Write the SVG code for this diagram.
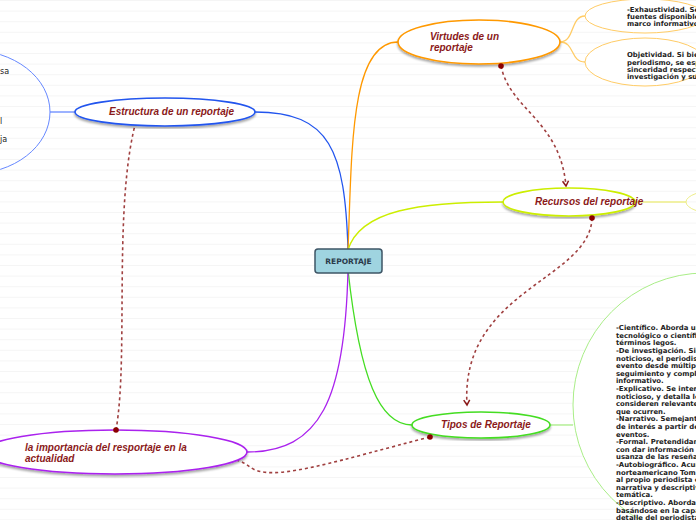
<svg xmlns="http://www.w3.org/2000/svg" width="696" height="520" viewBox="0 0 696 520">
<defs>
<pattern id="rule" width="696" height="10.6" patternUnits="userSpaceOnUse"><line x1="0" y1="0.5" x2="696" y2="0.5" stroke="#f5f5f5" stroke-width="1"/></pattern>
<marker id="ar" markerWidth="8" markerHeight="8" refX="6" refY="4" orient="auto" markerUnits="userSpaceOnUse"><path d="M1,1 L6,4 L1,7" fill="none" stroke="#8b1a1a" stroke-width="1.5"/></marker>
<filter id="sh"><feDropShadow dx="0" dy="2" stdDeviation="1.2" flood-color="#000" flood-opacity="0.35"/></filter>
</defs>
<style>
.t{font-family:"Liberation Sans",Arial,sans-serif;font-style:italic;font-weight:bold;font-size:10px;fill:#8b1a1a}
.s{font-family:"DejaVu Sans",sans-serif;font-weight:bold;font-size:6.9px;fill:#222}
.n{fill:#fff;stroke-width:1.6;filter:url(#sh)}
.l{fill:none;stroke-width:1.3}
.d{fill:none;stroke:#a04040;stroke-width:1.6;stroke-dasharray:3,3}
</style>
<rect width="696" height="520" fill="#fff"/>
<rect width="696" height="520" fill="url(#rule)"/>
<g id="connectors">
<path class="l" stroke="#2255ee" d="M348,250 C345,150 330,112 255,112"/>
<path class="l" stroke="#ff9900" d="M348,250 C352,150 350,42 398,42"/>
<path class="l" stroke="#ccee00" d="M348,250 C360,210 420,202 503,202"/>
<path class="l" stroke="#44dd22" d="M348,270 C360,380 380,425 412,425"/>
<path class="l" stroke="#aa22ee" d="M348,270 C345,400 320,452 247,452"/>
<path class="l" stroke="#6688ff" d="M75,112 L50,112"/>
<path class="l" stroke="#ffcc66" d="M560,42 C575,42 570,16 585,16 M560,42 C575,42 570,62 585,62"/>
<path class="l" stroke="#eeee88" d="M635,202 L686,202"/>
<path class="l" stroke="#aaee88" d="M550,425 L573,425"/>
<path class="d" d="M501,66 C510,110 560,120 566,186" marker-end="url(#ar)"/>
<path class="d" d="M592,218 C590,280 460,290 467,405" marker-end="url(#ar)"/>
<path class="d" d="M116,430 C130,350 110,180 143,100" marker-end="url(#ar)"/>
<path class="d" d="M430,437 C340,460 280,480 255,470 C245,465 245,460 225,458" marker-end="url(#ar)"/>
</g>
<g id="estructura">
<ellipse cx="-30" cy="112" rx="80" ry="62" fill="none" stroke="#6688ff" stroke-width="1"/>
<text x="0" y="74" class="s" style="font-weight:normal;font-size:8px">sa</text>
<text x="0" y="124" class="s" style="font-weight:normal;font-size:8px">l</text>
<text x="0" y="142" class="s" style="font-weight:normal;font-size:8px">ja</text>
<ellipse class="n" cx="165" cy="112" rx="90" ry="14" stroke="#2255ee"/>
<text x="109" y="115" class="t">Estructura de un reportaje</text>
</g>
<g id="virtudes">
<ellipse class="n" cx="479" cy="42" rx="81" ry="22" stroke="#ff9900"/>
<text class="t"><tspan x="430" y="40">Virtudes de un</tspan><tspan x="430" y="51">reportaje</tspan></text>
<ellipse cx="645" cy="16" rx="60" ry="17" fill="#fff" stroke="#ffcc66"/>
<text class="s"><tspan x="627" y="12">-Exhaustividad. Se esp</tspan><tspan x="627" y="19">fuentes disponibles so</tspan><tspan x="627" y="26">marco informativo del</tspan></text>
<ellipse cx="645" cy="62" rx="60" ry="24" fill="#fff" stroke="#ffcc66"/>
<text class="s"><tspan x="627" y="57">Objetividad. Si bien és</tspan><tspan x="627" y="65">periodismo, se espera</tspan><tspan x="627" y="72">sinceridad respecto a</tspan><tspan x="627" y="79">investigación y su abo</tspan></text>
</g>
<g id="recursos">
<ellipse class="n" cx="569" cy="202" rx="66" ry="14" stroke="#ccee00"/>
<text x="535" y="205" class="t">Recursos del reportaje</text>
<ellipse cx="720" cy="202" rx="34" ry="12" fill="none" stroke="#eeee88"/>
</g>
<g id="tipos">
<ellipse class="n" cx="481" cy="425" rx="69" ry="13" stroke="#44dd22"/>
<text x="441" y="428" class="t">Tipos de Reportaje</text>
<circle cx="705" cy="405" r="132" fill="#fff" stroke="#aaee88"/>
<text class="s"><tspan x="616" y="330">-Científico. Aborda una</tspan><tspan x="616" y="338">tecnológico o científico</tspan><tspan x="616" y="345">términos legos.</tspan><tspan x="616" y="353">-De investigación. Sin de</tspan><tspan x="616" y="361">noticioso, el periodista p</tspan><tspan x="616" y="368">evento desde múltiples</tspan><tspan x="616" y="376">seguimiento y completa</tspan><tspan x="616" y="383">informativo.</tspan><tspan x="616" y="391">-Explicativo. Se interesa</tspan><tspan x="616" y="399">noticioso, y detalla los a</tspan><tspan x="616" y="406">consideren relevantes e</tspan><tspan x="616" y="414">que ocurren.</tspan><tspan x="616" y="421">-Narrativo. Semejante a</tspan><tspan x="616" y="429">de interés a partir de un</tspan><tspan x="616" y="437">eventos.</tspan><tspan x="616" y="444">-Formal. Pretendidamen</tspan><tspan x="616" y="452">con dar información res</tspan><tspan x="616" y="459">usanza de las reseñas n</tspan><tspan x="616" y="467">-Autobiográfico. Acuñad</tspan><tspan x="616" y="475">norteamericano Tom Wo</tspan><tspan x="616" y="482">al propio periodista com</tspan><tspan x="616" y="490">narrativa y descriptivam</tspan><tspan x="616" y="497">temática.</tspan><tspan x="616" y="505">-Descriptivo. Aborda su</tspan><tspan x="616" y="513">basándose en la capacid</tspan><tspan x="616" y="520">detalle del periodista, pa</tspan></text>
</g>
<g id="importancia">
<ellipse class="n" cx="115" cy="452" rx="132" ry="22" stroke="#aa22ee"/>
<text class="t"><tspan x="25" y="451">la importancia del resportaje en la</tspan><tspan x="25" y="462">actualidad</tspan></text>
</g>
<g id="reportaje">
<rect x="315" y="249" width="67" height="24" rx="3" fill="#9fd4e0" stroke="#3e5566" stroke-width="1.5"/>
<text x="348.5" y="264" text-anchor="middle" font-family="DejaVu Sans,sans-serif" font-weight="bold" font-size="7.5" fill="#2a3a4a">REPORTAJE</text>
</g>
<g id="dots" fill="#8b0000">
<circle cx="501" cy="66" r="2.8"/><circle cx="592" cy="218" r="2.8"/><circle cx="116" cy="430" r="2.8"/><circle cx="430" cy="437" r="2.8"/>
</g>
</svg>
